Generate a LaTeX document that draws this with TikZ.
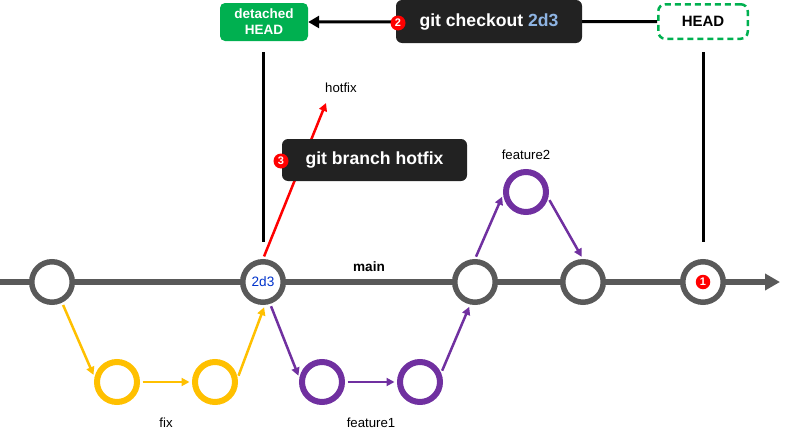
\documentclass[tikz,border=0pt]{standalone}
\usepackage{fontspec}
\setmainfont{Liberation Sans}
\usetikzlibrary{arrows.meta}
\definecolor{cgray}{HTML}{595959}
\definecolor{cyel}{HTML}{FFC000}
\definecolor{cpur}{HTML}{7030A0}
\definecolor{cgreen}{HTML}{00B050}
\definecolor{cdark}{HTML}{222222}
\definecolor{clblue}{HTML}{8EB4E3}
\definecolor{cblue}{HTML}{0033CC}
\definecolor{cred}{HTML}{FF0000}
\tikzset{
  commit/.style={circle, draw=cgray, line width=5.5pt, fill=white, minimum size=40.5pt, inner sep=0pt},
  ycommit/.style={commit, draw=cyel, line width=6pt, minimum size=40pt},
  pcommit/.style={commit, draw=cpur, line width=6pt, minimum size=40pt},
  yarr/.style={draw=cyel, line width=2.5pt, -{Triangle[length=8pt,width=8pt]}, shorten <=2.5pt, shorten >=2.5pt},
  parr/.style={yarr, draw=cpur},
  lbl/.style={font=\fontsize{13.2}{15}\selectfont, inner sep=0pt},
  cmdbox/.style={rectangle, rounded corners=6pt, fill=cdark, text=white, font=\fontsize{17.6}{20}\selectfont\bfseries, inner sep=0pt},
  badge/.style={circle, fill=cred, text=white, font=\fontsize{11}{12}\selectfont\bfseries, minimum size=15pt, inner sep=0pt},
  blk/.style={draw=black, line width=3pt},
}
\begin{document}
\begin{tikzpicture}[x=1pt,y=-1pt]
\useasboundingbox (0,0) rectangle (800,439);
% main line
\coordinate (mstart) at (0,282);
\coordinate (mend) at (780,282);
\draw[cgray, line width=5.5pt, -{Triangle[length=15pt,width=16pt]}] (mstart) -- (mend);
% commits
\node[commit] (c1) at (52,282) {};
\node[commit, font=\fontsize{13.6}{15}\selectfont, text=cblue] (c2) at (263,282) {2d3};
\node[commit] (c3) at (475,282) {};
\node[commit] (c4) at (583,282) {};
\node[commit] (c5) at (703,282) {};
\node[badge, minimum size=14.5pt] (b1) at (703,282) {1};
\node[ycommit] (y1) at (117,382) {};
\node[ycommit] (y2) at (215,382) {};
\node[pcommit] (p1) at (322,382) {};
\node[pcommit] (p2) at (420,382) {};
\node[pcommit] (f2) at (526,192) {};
% connectors
\draw[yarr] (c1.-64) -- (y1.168);
\draw[yarr] (y1) -- (y2);
\draw[yarr] (y2.10) -- (c2.-85);
\draw[parr] (c2.-72) -- (p1.170);
\draw[parr] (p1) -- (p2);
\draw[parr] (p2.23) -- (c3.-102);
\draw[parr] (c3.north) -- (f2.-174);
\draw[parr] (f2.-15) -- (c4.north);
% labels
\node[lbl] (lfix) at (166,423) {fix};
\node[lbl] (lf1) at (371,423) {feature1};
\node[lbl] (lf2) at (526,155) {feature2};
\node[lbl, font=\fontsize{13.6}{15}\selectfont\bfseries] (lmain) at (369,267) {main};
\node[lbl] (lhot) at (341,88) {hotfix};
% hotfix arrow
\coordinate (hottip) at (326,103);
\draw[cred, line width=2.5pt, -{Triangle[length=8pt,width=8pt]}, shorten <=2.75pt] (c2.north) -- (hottip);
% top boxes
\node[rectangle, rounded corners=5pt, fill=cgreen, text=white, align=center, minimum width=88pt, minimum height=38pt, inner sep=0pt, font=\fontsize{13.5}{16}\selectfont\bfseries] (det) at (264,22) {detached\\HEAD};
\node[rectangle, rounded corners=7pt, draw=cgreen, line width=2.5pt, dash pattern=on 6pt off 4pt, fill=white, minimum width=89.5pt, minimum height=34.5pt, inner sep=0pt, font=\fontsize{15}{17}\selectfont\bfseries] (head) at (703,21.5) {HEAD};
\draw[blk, -{Triangle[length=11pt,width=12pt]}] (head.west) -- (det.east);
\draw[blk] ([yshift=-11pt]c2.north |- det.south) -- ([yshift=16.75pt]c2.north);
\draw[blk] ([yshift=-12pt]c5.north |- head.south) -- ([yshift=16.75pt]c5.north);
% command boxes
\node[cmdbox, minimum width=186pt, minimum height=43pt] (cmd2) at (489,21.5) {git checkout \textcolor{clblue}{2d3}};
\node[badge] (b2) at (398,23) {2};
\node[cmdbox, minimum width=185pt, minimum height=42pt] (cmd3) at (374.5,160) {git branch hotfix};
\node[badge] (b3) at (281,161) {3};
\end{tikzpicture}
\end{document}
